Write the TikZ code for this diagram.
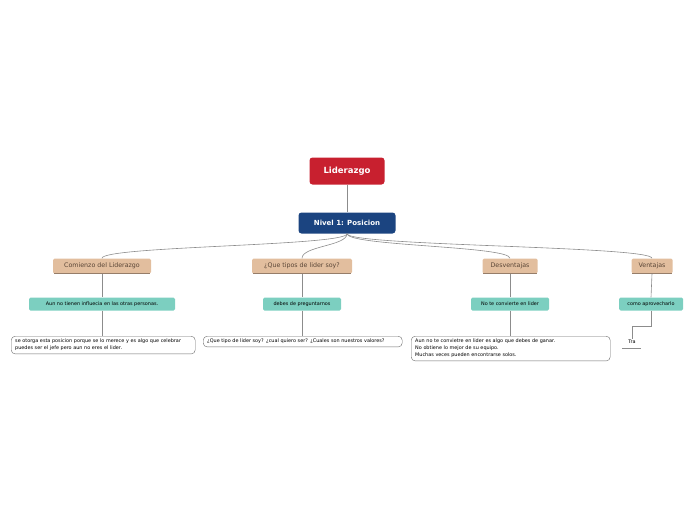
\documentclass[tikz,border=0pt]{standalone}
\usepackage{fontspec}
\setmainfont{DejaVu Sans}
\definecolor{cred}{RGB}{200,32,47}
\definecolor{cnavy}{RGB}{27,68,128}
\definecolor{ctan}{RGB}{226,190,158}
\definecolor{ctantext}{RGB}{90,70,55}
\definecolor{ctanline}{RGB}{150,125,105}
\definecolor{cteal}{RGB}{124,207,192}
\definecolor{cgrayb}{RGB}{110,110,110}
\definecolor{ccon}{RGB}{140,140,140}
\begin{document}
\begin{tikzpicture}[x=1pt,y=-1pt,
 root/.style={fill=cred,rounded corners=3pt,text=white,font=\bfseries\fontsize{8.5}{10}\selectfont,minimum width=75pt,minimum height=27pt,inner sep=0pt},
 lvl/.style={fill=cnavy,rounded corners=3pt,text=white,font=\bfseries\fontsize{7}{8}\selectfont,minimum height=21pt,inner sep=0pt},
 cat/.style={fill=ctan,rounded corners=1.5pt,text=ctantext,font=\fontsize{6.3}{7}\selectfont,minimum height=15pt,inner sep=0pt},
 sub/.style={fill=cteal,rounded corners=1.5pt,text=black,font=\fontsize{4.9}{6}\selectfont,minimum height=13pt,inner sep=0pt},
 leaf/.style={draw=cgrayb,rounded corners=4pt,fill=white,font=\fontsize{4.9}{7}\selectfont,align=left,anchor=north west,inner xsep=4pt,inner ysep=3pt},
 con/.style={draw=ccon,line width=0.6pt}]
\useasboundingbox (0,0) rectangle (696,520);
\node[root] (r) at (347,171) {Liderazgo};
\node[lvl,minimum width=97pt] (n) at (347,223) {Nivel 1: Posicion};
\node[cat,minimum width=98pt] (c1) at (102,266) {Comienzo del Liderazgo};
\node[cat,minimum width=100pt] (c2) at (302,266) {¿Que tipos de lider soy?};
\node[cat,minimum width=55pt] (c3) at (510,266) {Desventajas};
\node[cat,minimum width=41pt] (c4) at (652,266) {Ventajas};
\node[sub,minimum width=146pt] (s1) at (102,304) {Aun no tienen influecia en las otras personas.};
\node[sub,minimum width=78pt] (s2) at (302,304) {debes de preguntarnos};
\node[sub,minimum width=78pt] (s3) at (510,304) {No te convierte en lider};
\node[sub,minimum width=64pt] (s4) at (651,304) {como aprovecharlo};
\node[leaf,text width=176pt] (l1) at (11,336) {se otorga esta posicion porque se lo merece y es algo que celebrar puedes ser el jefe pero aun no eres el lider.};
\node[leaf,text width=191pt] (l2) at (203,336) {¿Que tipo de lider soy? ¿cual quiero ser? ¿Cuales son nuestros valores?};
\node[leaf,text width=191pt] (l3) at (411,336) {Aun no te convietre en lider es algo que debes de ganar.\\No obtiene lo mejor de su equipo.\\Muchas veces pueden encontrarse solos.};
\node[font=\fontsize{4.9}{6}\selectfont,inner sep=1pt] (t) at (632,342) {Tra};
\foreach \c in {c1,c2,c3,c4}{
 \draw[draw=ctanline,line width=0.8pt] ([xshift=1pt]\c.south west)--([xshift=-1pt]\c.south east);}
\draw[draw=ccon,line width=0.6pt] (622,348)--(641,348);
\draw[con] (r.south)--(n.north);
\draw[con] (n.south) .. controls (347,246) and (102,246) .. (c1.north);
\draw[con] (n.south) .. controls (347,246) and (302,246) .. (c2.north);
\draw[con] (n.south) .. controls (347,246) and (510,246) .. (c3.north);
\draw[con] (n.south) .. controls (347,246) and (652,246) .. (c4.north);
\draw[con] (c1.south)--(s1.north); \draw[con] (c2.south)--(s2.north);
\draw[con] (c3.south)--(s3.north); \draw[con] (c4.south)--(s4.north);
\draw[con] (s1.south)--(l1.north -| s1.south);
\draw[con] (s2.south)--(l2.north -| s2.south);
\draw[con] (s3.south)--(l3.north -| s3.south);
\draw[con] (s4.south)--(651,326)--(632,326)--(t.north);
\end{tikzpicture}
\end{document}
